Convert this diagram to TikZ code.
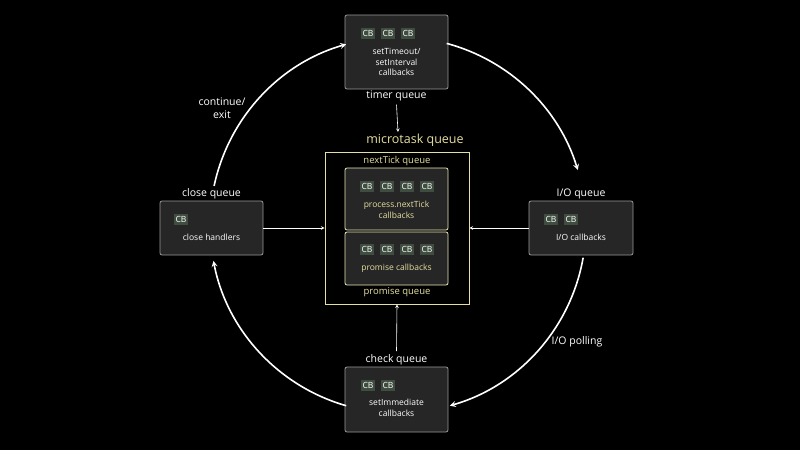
\documentclass[tikz,border=0pt]{standalone}
\usepackage{fontspec}
\setmainfont{Open Sans}
\begin{document}
\begin{tikzpicture}[x=1pt,y=-1pt,
 box/.style={draw=gray!80,fill=black!85,rounded corners=2pt,line width=0.8pt},
 ybox/.style={draw=ylw!80,fill=black!85,rounded corners=2pt,line width=0.8pt},
 chip/.style={fill=chipc,text=white!85,font=\fontsize{8.5}{9}\selectfont,inner sep=1.5pt,minimum height=11pt},
 lbl/.style={text=white,font=\fontsize{10.5}{12.5}\selectfont},
 txt/.style={text=white!90,font=\fontsize{8.5}{10.5}\selectfont,align=center},
 arr/.style={->,>=stealth,white,line width=1.6pt},
 thin/.style={->,>=stealth,white!85,line width=0.6pt}]
\definecolor{ylw}{HTML}{E6E0A0}
\definecolor{chipc}{HTML}{3F4D40}
\useasboundingbox[fill=black] (0,0) rectangle (800,450);
% timer
\node[box,minimum width=103,minimum height=74] (timer) at (396.5,52) {};
\foreach \i in {0,1,2}{\node[chip] at (368+\i*20,33) {CB};}
\node[txt] at (396.5,62) {setTimeout/\\setInterval\\callbacks};
\node[lbl] (tq) at (396.5,96) {timer queue};
% close
\node[box,minimum width=103,minimum height=54] (close) at (211.5,228) {};
\node[chip] at (181,219) {CB};
\node[txt] at (211.5,237) {close handlers};
\node[lbl] at (211.5,194) {close queue};
% io
\node[box,minimum width=104,minimum height=54] (io) at (581,228) {};
\node[chip] at (551,219) {CB};\node[chip] at (571,219) {CB};
\node[txt] at (581,237) {I/O callbacks};
\node[lbl] at (581,194) {I/O queue};
% check
\node[box,minimum width=103,minimum height=65] (check) at (396.5,399.5) {};
\node[chip] at (368,385) {CB};\node[chip] at (388,385) {CB};
\node[txt] at (396.5,408) {setImmediate\\callbacks};
\node[lbl] (cq) at (396.5,360) {check queue};
% microtask
\node[text=ylw,font=\fontsize{12.5}{14}\selectfont] at (415,140) {microtask queue};
\node[draw=ylw,line width=0.8pt,minimum width=144,minimum height=152] (micro) at (397,228) {};
\node[text=ylw,font=\fontsize{9.5}{11}\selectfont] at (397,161) {nextTick queue};
\node[ybox,minimum width=103,minimum height=62] (nt) at (396.5,199) {};
\node[ybox,minimum width=103,minimum height=53] (pr) at (396.5,258.5) {};
\foreach \i in {0,1,2,3}{\node[chip] at (367+\i*20,186) {CB};\node[chip] at (367+\i*20,249) {CB};}
\node[txt,text=ylw] at (396.5,210) {process.nextTick\\callbacks};
\node[txt,text=ylw] at (396.5,268) {promise callbacks};
\node[text=ylw,font=\fontsize{9.5}{11}\selectfont] at (397,292) {promise queue};
% straight arrows
\draw[thin] (tq.south) -- (398,132);
\draw[thin] (cq.north) -- (micro.south);
\draw[thin] (close.east) -- (micro.west);
\draw[thin] (io.west) -- (micro.east);
% arcs
\coordinate (c) at (398,225);
\draw[arr] (c) ++(-75:188) arc[start angle=-75,end angle=-17,radius=188];
\draw[arr] (c) ++(10:188) arc[start angle=10,end angle=74,radius=188];
\draw[arr] (c) ++(106:188) arc[start angle=106,end angle=169,radius=188];
\draw[arr] (c) ++(-168:188) arc[start angle=-168,end angle=-106,radius=188];
\node[lbl,align=center] at (222,108) {continue/\\exit};
\node[lbl] at (577,342) {I/O polling};
\end{tikzpicture}
\end{document}
